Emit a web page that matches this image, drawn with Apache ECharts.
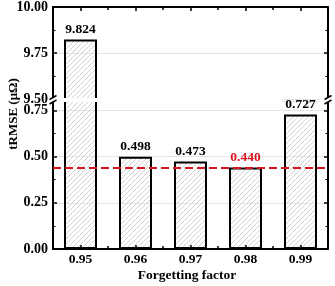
<!DOCTYPE html>
<html>
<head>
<meta charset="utf-8">
<script src="https://cdn.jsdelivr.net/npm/echarts@6/dist/echarts.min.js"></script>
<style>html,body{margin:0;padding:0;background:#fff}#c{width:335px;height:286px}</style>
</head>
<body>
<div id="c"></div>
<script>
var categories = ['0.95', '0.96', '0.97', '0.98', '0.99'];
var values = [9.824, 0.498, 0.473, 0.440, 0.727];
var refLine = 0.440;
var highlightIndex = 3;
var upperTicks = [9.50, 9.75, 10.00];
var lowerTicks = [0.00, 0.25, 0.50, 0.75];

var FONT = '"Liberation Serif", "Times New Roman", serif';
var RED = '#d8141c';

// hatch pattern
var pc = document.createElement('canvas');
pc.width = 5; pc.height = 5;
var g = pc.getContext('2d');
g.strokeStyle = '#d2d2d2';
g.lineWidth = 1;
g.beginPath();
g.moveTo(0, 5); g.lineTo(5, 0);
g.moveTo(-1, 1); g.lineTo(1, -1);
g.moveTo(4, 6); g.lineTo(6, 4);
g.stroke();
var hatch = { image: pc, repeat: 'repeat' };

var upperMin = upperTicks[0], upperMax = upperTicks[upperTicks.length - 1];
var lowerMin = lowerTicks[0], lowerMax = 0.80;

var upperData = values.map(function (v) { return v > upperMin ? v : '-'; });
var lowerData = values.map(function (v, i) {
  return {
    value: v,
    label: { show: v <= lowerMax, color: i === highlightIndex ? RED : '#000' }
  };
});

function yAx(grid, pos, min, max, showLabel) {
  return {
    type: 'value', gridIndex: grid, position: pos, min: min, max: max, interval: 0.25,
    axisLine: { show: true, lineStyle: { color: '#000', width: 2 } },
    axisTick: { show: true, inside: true, length: 4, lineStyle: { color: '#000', width: 1.5 } },
    minorTick: { show: true, splitNumber: 2, length: 2.5, lineStyle: { color: '#000', width: 1 } },
    splitLine: { show: showLabel, lineStyle: { color: '#e4e4e4', width: 1 } },
    axisLabel: {
      show: showLabel, showMaxLabel: grid === 0, margin: 5,
      fontFamily: FONT, fontWeight: 'bold', fontSize: 14, color: '#000',
      formatter: function (v) { return v.toFixed(2); }
    }
  };
}
function xAx(grid, pos, center, len, showLine, showLabel) {
  return {
    type: 'category', gridIndex: grid, position: pos, data: categories,
    axisLine: { show: showLine, lineStyle: { color: '#000', width: 2 } },
    axisTick: { show: true, inside: true, alignWithLabel: center, length: len, lineStyle: { color: '#000', width: 1.5 } },
    axisLabel: { show: showLabel, margin: 4, fontFamily: FONT, fontWeight: 'bold', fontSize: 13.5, color: '#000' },
    splitLine: { show: false }
  };
}

var labelStyle = {
  show: true, position: 'top', distance: 3, fontFamily: FONT, fontWeight: 'bold', fontSize: 13.5, color: '#000',
  formatter: function (p) { return Number(p.value).toFixed(3); }
};
var itemStyle = { color: hatch, borderColor: '#000', borderWidth: 2 };

var option = {
  backgroundColor: '#fff',
  animation: false,
  grid: [
    { left: 53, right: 7, top: 5, height: 94 },
    { left: 53, right: 7, top: 101, height: 148 }
  ],
  xAxis: [
    xAx(0, 'top', true, 4, true, false),
    xAx(1, 'bottom', true, 4, true, true),
    xAx(0, 'top', false, 3, false, false),
    xAx(1, 'bottom', false, 3, false, false)
  ],
  yAxis: [
    yAx(0, 'left', upperMin, upperMax, true),
    yAx(0, 'right', upperMin, upperMax, false),
    yAx(1, 'left', lowerMin, lowerMax, true),
    yAx(1, 'right', lowerMin, lowerMax, false)
  ],
  series: [
    {
      type: 'bar', xAxisIndex: 0, yAxisIndex: 0, data: upperData, barWidth: 33,
      itemStyle: itemStyle, label: labelStyle, clip: true
    },
    {
      type: 'bar', xAxisIndex: 1, yAxisIndex: 2, data: lowerData, barWidth: 33,
      itemStyle: itemStyle, label: labelStyle, clip: true,
      markLine: {
        silent: true, symbol: 'none', label: { show: false },
        lineStyle: { color: RED, width: 2, type: [8, 4] },
        data: [{ yAxis: refLine }]
      }
    }
  ],
  graphic: [
    { type: 'rect', z: 100, shape: { x: 50, y: 98, width: 232, height: 4 }, style: { fill: '#fff' } },
    { type: 'rect', z: 100, shape: { x: 319, y: 98, width: 13, height: 4 }, style: { fill: '#fff' } },
    { type: 'line', z: 101, shape: { x1: 49.5, y1: 99.5, x2: 56.5, y2: 95.5 }, style: { stroke: '#000', lineWidth: 1.5 } },
    { type: 'line', z: 101, shape: { x1: 49.5, y1: 104, x2: 56.5, y2: 100 }, style: { stroke: '#000', lineWidth: 1.5 } },
    { type: 'line', z: 101, shape: { x1: 324.5, y1: 99.5, x2: 331.5, y2: 95.5 }, style: { stroke: '#000', lineWidth: 1.5 } },
    { type: 'line', z: 101, shape: { x1: 324.5, y1: 104, x2: 331.5, y2: 100 }, style: { stroke: '#000', lineWidth: 1.5 } },
    { type: 'text', z: 101, x: 14, y: 114, rotation: Math.PI / 2,
      style: { text: 'tRMSE (μΩ)', fontFamily: FONT, fontWeight: 'bold', fontSize: 13, fill: '#000', align: 'center', verticalAlign: 'middle' } },
    { type: 'text', z: 101, x: 187, y: 276,
      style: { text: 'Forgetting factor', fontFamily: FONT, fontWeight: 'bold', fontSize: 13.5, fill: '#000', align: 'center', verticalAlign: 'middle' } }
  ]
};

var chart = echarts.init(document.getElementById('c'), null, { renderer: 'canvas' });
chart.setOption(option);
</script>
</body>
</html>
